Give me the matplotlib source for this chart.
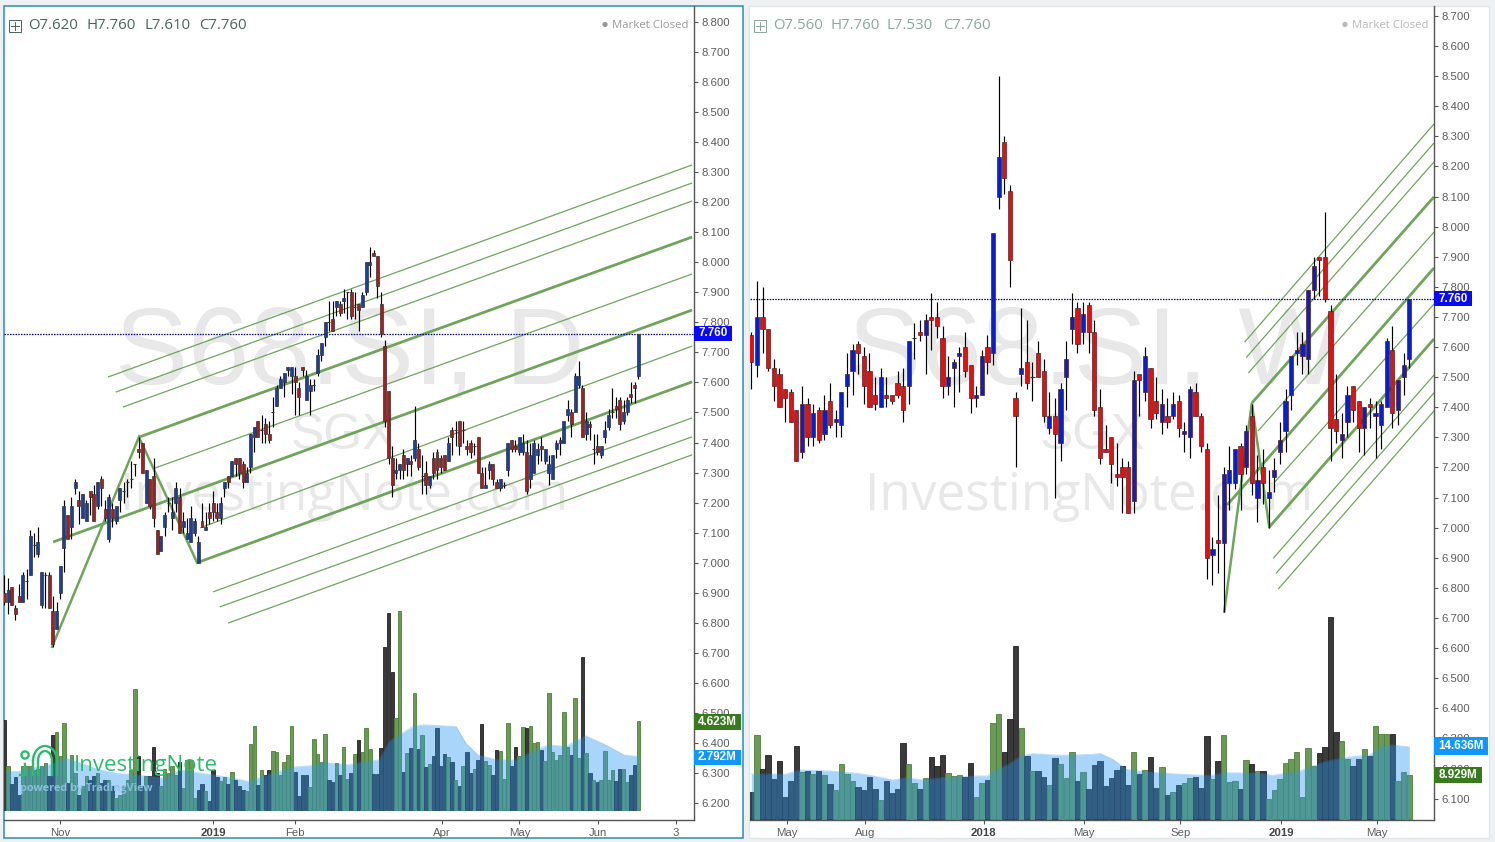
#!/usr/bin/env python3
import matplotlib
matplotlib.use('Agg')
import matplotlib.pyplot as plt
from matplotlib.patches import Rectangle, Arc, Circle

W, H = 1495, 842

# ---- daily chart (left) ----
d_open = [6.90,6.87,6.92,6.85,6.89,6.87,6.94,6.96,7.06,7.03,6.86,6.96,6.96,6.84,6.78,6.90,7.05,7.16,7.12,7.25,
          7.21,7.15,7.14,7.24,7.23,7.19,7.28,7.18,7.08,7.18,7.14,7.21,7.24,7.27,7.28,7.33,7.38,7.40,7.20,7.28,
          7.29,7.11,7.04,7.12,7.20,7.15,7.20,7.22,7.12,7.08,7.07,7.10,7.00,7.14,7.11,7.17,7.20,7.17,7.15,7.25,
          7.29,7.29,7.35,7.35,7.33,7.27,7.32,7.42,7.47,7.44,7.46,7.43,7.50,7.52,7.58,7.60,7.64,7.62,7.62,7.58,
          7.65,7.54,7.57,7.59,7.63,7.69,7.75,7.80,7.81,7.85,7.86,7.87,7.90,7.90,7.85,7.86,7.85,7.90,7.99,8.03,
          8.02,7.86,7.72,7.57,7.35,7.30,7.31,7.36,7.33,7.34,7.35,7.38,7.29,7.30,7.26,7.35,7.37,7.35,7.36,7.34,
          7.44,7.44,7.47,7.44,7.39,7.40,7.39,7.42,7.30,7.25,7.31,7.33,7.27,7.25,7.26,7.31,7.41,7.39,7.37,7.37,
          7.37,7.28,7.30,7.36,7.39,7.34,7.30,7.28,7.38,7.40,7.40,7.49,7.50,7.50,7.59,7.58,7.43,7.46,7.38,7.39,
          7.36,7.42,7.45,7.50,7.52,7.54,7.47,7.50,7.56,7.59,7.62]
d_high = [6.96,6.95,6.92,6.86,6.93,6.97,6.98,7.11,7.10,7.12,6.97,6.97,6.97,6.89,6.87,6.99,7.21,7.16,7.22,7.28,
          7.24,7.23,7.21,7.24,7.26,7.27,7.29,7.21,7.23,7.20,7.19,7.25,7.27,7.28,7.34,7.33,7.42,7.40,7.31,7.28,
          7.35,7.11,7.09,7.17,7.22,7.22,7.27,7.25,7.17,7.15,7.19,7.15,7.09,7.20,7.17,7.20,7.24,7.20,7.22,7.27,
          7.29,7.34,7.35,7.35,7.34,7.32,7.43,7.45,7.47,7.49,7.48,7.47,7.55,7.59,7.62,7.63,7.65,7.65,7.65,7.60,
          7.65,7.64,7.61,7.61,7.71,7.73,7.80,7.87,7.87,7.87,7.87,7.91,7.90,7.91,7.90,7.86,7.90,8.00,8.05,8.04,
          8.02,7.90,7.74,7.57,7.39,7.35,7.33,7.38,7.35,7.36,7.52,7.40,7.36,7.34,7.29,7.37,7.38,7.36,7.36,7.42,
          7.45,7.47,7.47,7.47,7.41,7.41,7.40,7.42,7.32,7.32,7.34,7.33,7.28,7.28,7.27,7.40,7.41,7.41,7.42,7.43,
          7.41,7.40,7.41,7.40,7.42,7.38,7.36,7.36,7.41,7.42,7.47,7.54,7.51,7.63,7.67,7.59,7.50,7.47,7.43,7.43,
          7.39,7.47,7.51,7.58,7.55,7.55,7.54,7.55,7.60,7.60,7.76]
d_low = [6.86,6.83,6.86,6.81,6.87,6.87,6.88,6.96,7.02,7.02,6.85,6.85,6.85,6.72,6.78,6.88,6.97,7.08,7.08,7.23,
         7.13,7.15,7.14,7.16,7.14,7.18,7.19,7.14,7.07,7.12,7.13,7.17,7.20,7.22,7.25,7.29,7.35,7.30,7.20,7.18,
         7.12,7.03,7.04,7.09,7.17,7.11,7.17,7.10,7.10,7.08,7.07,7.09,7.00,7.12,7.11,7.13,7.14,7.14,7.13,7.22,
         7.25,7.29,7.29,7.28,7.25,7.27,7.30,7.37,7.42,7.40,7.40,7.40,7.45,7.52,7.58,7.55,7.62,7.56,7.49,7.49,
         7.62,7.54,7.49,7.57,7.62,7.67,7.72,7.77,7.77,7.82,7.82,7.83,7.81,7.81,7.81,7.77,7.85,7.89,7.95,8.02,
         7.88,7.75,7.45,7.33,7.22,7.28,7.28,7.28,7.29,7.29,7.34,7.31,7.23,7.23,7.25,7.28,7.28,7.30,7.31,7.34,
         7.36,7.39,7.36,7.40,7.36,7.35,7.36,7.30,7.25,7.25,7.28,7.26,7.25,7.24,7.25,7.29,7.37,7.37,7.36,7.36,
         7.23,7.25,7.30,7.33,7.34,7.33,7.26,7.28,7.35,7.36,7.40,7.47,7.42,7.50,7.58,7.42,7.41,7.41,7.33,7.36,
         7.35,7.40,7.44,7.48,7.48,7.44,7.46,7.49,7.53,7.53,7.61]
d_close = [6.87,6.91,6.86,6.83,6.87,6.96,6.94,7.09,7.06,7.07,6.97,6.96,6.85,6.73,6.84,6.99,7.19,7.08,7.19,7.27,
           7.19,7.23,7.20,7.22,7.14,7.27,7.25,7.15,7.22,7.15,7.19,7.25,7.24,7.27,7.28,7.33,7.37,7.30,7.31,7.19,
           7.15,7.03,7.09,7.16,7.20,7.17,7.25,7.10,7.14,7.10,7.15,7.14,7.07,7.12,7.12,7.15,7.17,7.15,7.20,7.27,
           7.27,7.34,7.33,7.30,7.27,7.30,7.43,7.45,7.42,7.44,7.43,7.41,7.50,7.58,7.61,7.63,7.65,7.65,7.60,7.55,
           7.64,7.62,7.59,7.59,7.69,7.73,7.80,7.80,7.77,7.87,7.83,7.88,7.90,7.82,7.85,7.84,7.89,8.00,8.00,8.02,
           7.92,7.76,7.47,7.35,7.26,7.31,7.33,7.31,7.35,7.33,7.41,7.32,7.29,7.26,7.29,7.30,7.31,7.32,7.31,7.40,
           7.42,7.44,7.39,7.44,7.38,7.37,7.39,7.30,7.25,7.26,7.33,7.28,7.25,7.28,7.26,7.40,7.38,7.38,7.42,7.40,
           7.24,7.36,7.40,7.38,7.38,7.38,7.33,7.36,7.40,7.41,7.47,7.51,7.46,7.62,7.62,7.42,7.47,7.45,7.38,7.37,
           7.39,7.44,7.49,7.50,7.51,7.46,7.50,7.54,7.55,7.58,7.76]
d_vol = [4.71,2.32,1.39,1.73,0.78,2.29,2.29,2.29,2.11,2.15,2.29,2.46,1.77,3.93,4.07,2.84,4.54,1.42,2.87,1.94,
         0.81,1.25,1.77,1.59,1.77,1.94,1.42,1.59,1.59,1.25,0.64,0.81,1.25,1.59,2.11,6.30,2.84,1.25,1.77,1.77,
         3.29,1.94,1.25,2.15,1.94,2.29,1.85,2.51,1.16,2.63,2.63,0.64,1.07,1.39,0.99,0.50,2.08,1.73,1.51,1.73,
         1.39,1.99,1.59,1.28,1.07,0.99,3.46,4.38,1.33,2.11,1.85,2.11,3.08,3.03,1.82,2.51,2.87,4.38,1.99,0.73,
         1.85,1.85,1.21,3.71,2.93,2.53,3.97,1.56,1.49,2.46,1.82,3.31,1.65,
         1.94,2.94,3.67,3.03,4.29,3.19,1.90,1.90,3.26,8.48,10.25,7.20,4.81,10.35,1.99,2.98,3.26,6.11,3.20,3.93,
         2.27,2.41,2.84,4.29,2.32,2.94,2.79,2.53,1.59,1.28,2.32,3.05,1.96,2.16,2.63,4.50,2.58,2.37,1.85,3.15,
         3.10,1.65,4.54,2.32,3.31,2.81,4.35,4.29,4.40,3.52,3.57,3.15,2.58,6.11,3.05,2.63,2.89,5.13,3.31,2.89,
         5.85,2.74,7.98,3.00,1.96,1.59,1.49,1.59,3.10,1.59,2.11,1.54,2.16,2.16,1.49,1.85,2.37,4.623]
# g = green volume bar, k = dark volume bar
d_vol_col = ('kgkkkggggg' 'ggkkgggkgg' 'kggkkgkkgk' 'ggggggkkgk' 'kkgggggkgg' 'ggkkgkkkgg' 'kgkkkgggkg' 'kkggggggkk'
             'kkgggggkkg' 'kgg'
             'kgkgggkkkk' 'kkggkgkgkg' 'kgkkkkgkgk' 'gkkgkkggkk' 'gggkkggkgg' 'gkgggggggk' 'ggkgkgkggg' 'gkkggkkg')
d_ma_x = [0.4,4,7.6,12.1,16.5,21,25.5,30,34.4,38.9,42.5,47,52.3,55.9,61.3,65.3,69.3,77.4,81.8,85.4,92.6,
          97,100.6,103.2,105.9,109.5,112.2,115.7,121.1,123.7,126.9,131.8,137.1,142.5,146,150.5,155.8,161.2,166.1,170]
d_ma = [2.03,2.03,2.20,2.37,2.72,2.42,2.11,1.94,1.85,1.77,1.68,2.11,1.94,1.85,1.68,1.51,1.77,2.25,2.32,2.49,2.37,
        2.55,2.63,3.58,3.93,4.36,4.45,4.42,4.36,3.50,2.89,2.63,2.63,3.15,3.41,3.32,3.88,3.41,2.89,2.792]
d_tick_x = [15.0,56.0,77.9,117.3,138.1,159.2,180.1]
d_tick_lab = ['Nov','2019','Feb','Apr','May','Jun','3']
d_prices = [6.2,6.3,6.4,6.5,6.6,6.7,6.8,6.9,7.0,7.1,7.2,7.3,7.4,7.5,7.6,7.7,7.8,7.9,8.0,8.1,8.2,8.3,8.4,8.5,8.6,8.7,8.8]
# pitchfork: start bar, start price, end bar, end price, thick (1) or thin (0)
d_fork_x0 = [27.8,29.9,31.8,36.1,40.4,13.1,52.5,51.7,56.0,57.8,60.0]
d_fork_p0 = [7.618,7.568,7.518,7.418,7.315,7.069,7.116,7.0,6.903,6.853,6.799]
d_fork_x1 = [184.4]*11
d_fork_p1 = [8.324,8.264,8.204,8.084,7.961,7.841,7.721,7.602,7.482,7.419,7.359]
d_fork_thick = [0,0,0,1,0,1,0,1,0,0,0]
d_zig_x = [12.8,36.1,51.7]
d_zig_p = [6.72,7.418,7.0]

# ---- weekly chart (right) ----
w_open = [7.64,7.54,7.70,7.66,7.53,7.51,7.46,7.45,7.39,7.25,7.41,7.30,7.39,7.31,7.42,7.35,7.34,7.47,7.52,7.61,
          7.57,7.52,7.44,7.40,7.44,7.44,7.48,7.47,7.47,7.63,7.65,7.64,7.70,7.70,7.63,7.47,7.53,7.57,7.60,7.54,
          7.43,7.44,7.60,7.58,8.10,8.28,8.12,7.43,7.51,7.55,7.50,7.58,7.52,7.33,7.37,7.28,7.50,7.66,7.73,7.65,
          7.74,7.65,7.40,7.26,7.30,7.18,7.20,7.20,7.09,7.51,7.45,7.53,7.42,7.35,7.37,7.37,7.42,7.31,7.30,7.45,
          7.37,7.26,6.91,6.96,6.95,7.15,7.15,7.27,7.20,7.37,7.10,7.20,7.10,7.17,7.25,7.32,7.44,7.58,7.57,7.56,
          7.79,7.90,7.90,7.72,7.36,7.29,7.35,7.47,7.42,7.33,7.41,7.37,7.34,7.40,7.59,7.39,7.50,7.56]
w_high = [7.65,7.82,7.80,7.66,7.56,7.53,7.46,7.46,7.39,7.47,7.43,7.41,7.40,7.44,7.48,7.39,7.45,7.58,7.61,7.62,
          7.60,7.58,7.50,7.53,7.50,7.44,7.52,7.53,7.62,7.68,7.69,7.71,7.78,7.75,7.67,7.57,7.56,7.60,7.65,7.54,
          7.47,7.59,7.64,7.98,8.50,8.30,8.14,7.45,7.73,7.69,7.55,7.62,7.56,7.45,7.43,7.48,7.62,7.78,7.75,7.75,
          7.75,7.69,7.46,7.34,7.30,7.28,7.23,7.22,7.52,7.51,7.60,7.53,7.50,7.46,7.43,7.45,7.44,7.35,7.47,7.48,
          7.38,7.28,6.97,7.11,7.20,7.27,7.26,7.28,7.34,7.41,7.24,7.26,7.19,7.23,7.35,7.46,7.57,7.65,7.65,7.79,
          7.90,7.90,8.05,7.74,7.51,7.38,7.47,7.47,7.42,7.40,7.43,7.42,7.42,7.63,7.67,7.49,7.58,7.76]
w_low = [7.46,7.50,7.58,7.52,7.42,7.40,7.35,7.35,7.22,7.23,7.27,7.27,7.28,7.29,7.33,7.30,7.30,7.40,7.44,7.51,
         7.41,7.40,7.39,7.40,7.40,7.41,7.43,7.35,7.41,7.56,7.62,7.51,7.59,7.63,7.43,7.44,7.40,7.45,7.50,7.38,
         7.40,7.44,7.51,7.54,8.06,8.11,7.80,7.20,7.47,7.46,7.42,7.50,7.35,7.31,7.10,7.22,7.39,7.61,7.58,7.61,
         7.58,7.37,7.21,7.25,7.15,7.14,7.05,7.05,7.05,7.37,7.42,7.33,7.36,7.31,7.33,7.36,7.30,7.25,7.23,7.37,
         7.25,6.83,6.81,6.85,6.72,7.06,7.13,7.06,7.18,7.11,7.02,7.08,7.00,7.12,7.21,7.25,7.39,7.54,7.51,7.51,
         7.76,7.77,7.75,7.22,7.28,7.23,7.30,7.35,7.25,7.24,7.33,7.23,7.26,7.40,7.33,7.34,7.44,7.53]
w_close = [7.55,7.70,7.66,7.53,7.47,7.40,7.43,7.35,7.22,7.41,7.30,7.38,7.29,7.39,7.34,7.36,7.45,7.51,7.59,7.58,
           7.47,7.40,7.41,7.50,7.43,7.42,7.44,7.39,7.62,7.63,7.64,7.69,7.69,7.67,7.47,7.50,7.55,7.58,7.52,7.43,
           7.44,7.57,7.55,7.98,8.23,8.16,7.89,7.37,7.53,7.48,7.50,7.50,7.37,7.37,7.31,7.46,7.56,7.70,7.61,7.71,
           7.65,7.39,7.23,7.25,7.21,7.17,7.17,7.05,7.49,7.49,7.57,7.36,7.38,7.41,7.35,7.41,7.33,7.32,7.46,7.37,
           7.27,6.90,6.93,6.95,7.18,7.19,7.26,7.18,7.32,7.15,7.16,7.15,7.12,7.19,7.29,7.42,7.57,7.59,7.61,7.79,
           7.87,7.89,7.76,7.33,7.32,7.31,7.44,7.39,7.33,7.40,7.40,7.38,7.41,7.62,7.38,7.49,7.54,7.76]
w_vol = [5.41,16.97,10.07,12.91,8.05,11.70,4.39,7.64,14.74,9.47,9.67,9.13,9.67,8.92,7.03,5.81,11.09,9.13,7.71,6.42,
         5.81,8.45,6.02,3.79,7.64,5.21,6.02,15.35,11.09,7.23,6.02,8.25,12.51,10.68,12.91,9.26,8.65,8.92,8.45,11.29,
         4.39,7.23,7.84,19.41,21.23,13.52,20.22,35.02,18.39,12.71,9.67,9.67,8.45,6.83,12.31,11.09,8.25,13.52,7.64,9.47,6.02,
         10.89,11.70,6.63,8.25,9.87,10.68,6.83,13.52,9.13,9.87,12.51,6.22,10.48,4.80,5.41,6.83,7.23,8.25,8.45,6.22,
         16.77,8.05,11.70,16.97,7.44,7.64,6.02,11.90,11.09,9.67,9.67,3.99,5.81,8.05,11.29,12.10,13.52,4.39,14.33,10.68,
         13.32,14.54,40.91,17.58,15.75,12.10,10.68,12.10,14.13,12.71,18.80,17.17,17.17,17.17,7.64,9.47,8.929]
w_vol_col = ('kgkkkkkkkg' 'kgkgkggggk' 'kkkgkkkkgg' 'kgkkkgggkk' 'ggkggkkkgk' 'gkkgkgggkg' 'k'
             'kkkkkkkgkg' 'kkgkgkggkk' 'kgkgggkgkg' 'kggggggggg' 'kkkkggkkgk' 'gggkggg')
w_ma_x = [0,4.5,6,8.6,14,18.9,21.7,25.2,27.6,30.5,34,40,42,43,46,48,50,55,60.7,61,62,64.3,66.7,69.6,75.5,81.5,
          84.4,90.3,92.7,97.5,102,105.7,109.9,112,114,117]
w_ma = [9.13,9.13,9.06,9.94,9.74,9.26,8.72,7.91,8.38,7.91,8.38,8.72,8.72,9.60,11.29,12.78,13.25,12.91,13.12,13.18,
        13.32,12.10,10.07,9.60,9.13,8.79,9.40,9.26,8.86,9.74,11.63,12.51,12.98,14.67,15.01,14.636]
w_tick_x = [6.3,20.3,41.3,59.2,76.3,94.2,111.3]
w_tick_lab = ['May','Aug','2018','May','Sep','2019','May']
w_prices = [6.1,6.2,6.3,6.4,6.5,6.6,6.7,6.8,6.9,7.0,7.1,7.2,7.3,7.4,7.5,7.6,7.7,7.8,7.9,8.0,8.1,8.2,8.3,8.4,8.5,8.6,8.7]
w_fork_x0 = [87.7,88.0,88.4,89.0,90.1,84.6,93.1,92.1,92.8,93.3,93.7]
w_fork_p0 = [7.616,7.565,7.514,7.414,7.321,7.075,7.152,7.002,6.898,6.848,6.796]
w_fork_x1 = [121.4]*11
w_fork_p1 = [8.341,8.278,8.215,8.099,7.982,7.863,7.743,7.627,7.507,7.448,7.388]
w_fork_thick = [0,0,0,1,0,1,0,1,0,0,0]
w_zig_x = [84.1,89.0,92.1]
w_zig_p = [6.721,7.414,7.002]

last_price = 7.76
d_ohlc_text = [('O7.620', 28), ('H7.760', 86), ('L7.610', 144), ('C7.760', 199)]
w_ohlc_text = [('O7.560', 773), ('H7.760', 831), ('L7.530', 887), ('C7.760', 943)]

FORK = '#6fa55a'
GREEN_VOL = '#6b9a58'
DARK_VOL = '#3a3a3a'
AREA = '#2996f3'
AXIS = '#555555'
LABEL = '#5c5c5c'
FONT = 'Liberation Sans'


def panel_axes(fig, x0, x1, y0, y1):
    ax = fig.add_axes([x0 / W, 1 - y1 / H, (x1 - x0) / W, (y1 - y0) / H])
    ax.patch.set_alpha(0)
    return ax


def draw_chart(ax, opens, highs, lows, closes, vols, vol_cols, ma_x, ma, ticks, tick_labs, prices,
               fork, zig, body_w, vol_w, up_col, down_col, body_edge, xlim, ylim, vlim):
    xs = list(range(len(opens)))

    # volume goes on its own hidden scale
    vax = ax.twinx()
    vax.patch.set_alpha(0)
    vax.set_ylim(*vlim)
    vax.set_xlim(*xlim)
    vax.axis('off')
    cols = [GREEN_VOL if c == 'g' else DARK_VOL for c in vol_cols]
    edges = ['#4e7f3a' if c == 'g' else '#222222' for c in vol_cols]
    vax.bar(xs, vols, width=vol_w, color=cols, edgecolor=edges, linewidth=0.6, zorder=2)
    vax.fill_between(ma_x, 0, ma, color=AREA, alpha=0.4, linewidth=0, zorder=3)
    vax.plot(ma_x, ma, color=AREA, alpha=0.3, linewidth=0.7, zorder=3)

    # pitchfork and the zigzag it hangs on
    for x0, p0, x1, p1, thick in zip(*fork):
        ax.plot([x0, x1], [p0, p1], color=FORK, linewidth=2.0 if thick else 0.9, zorder=2,
                solid_capstyle='butt')
    ax.plot(zig[0], zig[1], color=FORK, linewidth=1.8, zorder=2, solid_joinstyle='miter')

    # last price line
    ax.axhline(last_price, color='#00008b', linewidth=0.9, dashes=(1.2, 1.0), zorder=3)

    # candles
    ax.vlines(xs, lows, highs, color='black', linewidth=0.85, zorder=4)
    for i in xs:
        lo = min(opens[i], closes[i])
        hi = max(opens[i], closes[i])
        c = up_col if closes[i] > opens[i] else down_col
        if hi == lo:
            ax.hlines(lo, i - body_w / 2, i + body_w / 2, color='#333333', linewidth=0.8, zorder=5)
        else:
            ax.bar(i, hi - lo, bottom=lo, width=body_w, color=c, edgecolor=body_edge, linewidth=0.5, zorder=5)

    ax.set_xlim(*xlim)
    ax.set_ylim(*ylim)
    ax.yaxis.tick_right()
    ax.set_yticks(prices)
    ax.set_yticklabels(['%.3f' % p for p in prices], family=FONT, fontsize=8.2, color=LABEL)
    ax.set_xticks(ticks)
    ax.set_xticklabels(tick_labs, family=FONT, fontsize=8.2, color=LABEL)
    for lab in ax.get_xticklabels():
        if lab.get_text() in ('2018', '2019'):
            lab.set_color('#444444')
            lab.set_fontweight('bold')
    ax.tick_params(axis='both', length=3, width=0.8, color=AXIS, pad=2.5)
    for side in ['top', 'left']:
        ax.spines[side].set_visible(False)
    for side in ['right', 'bottom']:
        ax.spines[side].set_color(AXIS)
        ax.spines[side].set_linewidth(1.0)


def draw_header(ov, items, box_x, col, market_x, market_col, y):
    ov.add_patch(Rectangle((box_x, y - 6), 12, 12, fill=False, edgecolor=col, linewidth=0.7))
    ov.plot([box_x + 2, box_x + 10], [y, y], color=col, linewidth=0.7)
    ov.plot([box_x + 6, box_x + 6], [y - 4, y + 4], color=col, linewidth=0.7)
    for txt, x in items:
        ov.text(x, y, txt, family='Open Sans', fontsize=10.8, color=col, va='center', ha='left')
    ov.add_patch(Circle((market_x, y - 1), 2.6, color=market_col, linewidth=0))
    ov.text(market_x + 7, y - 0.5, 'Market Closed', family='Open Sans', fontsize=8.2, color=market_col,
            va='center', ha='left')


def draw_tag(ov, x0, x1, y0, y1, txt, col):
    ov.add_patch(Rectangle((x0, y0), x1 - x0, y1 - y0, color=col, linewidth=0, zorder=6))
    ov.text((x0 + x1) / 2, (y0 + y1) / 2, txt, family=FONT, fontsize=8.4, fontweight='bold',
            color='white', ha='center', va='center', zorder=7)


def draw_logo(ov):
    col = '#2fbb6e'
    ov.add_patch(Circle((25, 755), 3.6, fill=False, edgecolor=col, linewidth=1.7))
    ov.plot([25, 25, 20], [764, 775, 775], color=col, linewidth=1.7)
    for w, h, cx in [(24, 30, 45), (14, 20, 45)]:
        ov.add_patch(Arc((cx, 761), w, h, theta1=180, theta2=360, edgecolor=col, linewidth=1.7))
        ov.plot([cx - w / 2, cx - w / 2], [761, 775], color=col, linewidth=1.7)
        ov.plot([cx + w / 2, cx + w / 2], [761, 775], color=col, linewidth=1.7)
    ov.text(74, 765, 'InvestingNote', family='Open Sans', fontsize=16, color=col, va='center', ha='left', zorder=5)
    ov.text(20, 788, 'powered by TradingView', family='Open Sans', fontsize=7.8, color='#8fc3e8',
            va='center', ha='left', fontweight='bold', alpha=0.9)


def main():
    fig = plt.figure(figsize=(W / 100, H / 100), dpi=100, facecolor='#eef1f3')

    # page background, panel frames and watermarks, all in pixels
    bg = fig.add_axes([0, 0, 1, 1], zorder=0)
    bg.set_xlim(0, W)
    bg.set_ylim(H, 0)
    bg.axis('off')
    bg.add_patch(Rectangle((3.5, 5.5), 739, 832, facecolor='white', edgecolor='#2b8db5', linewidth=1.1))
    bg.add_patch(Rectangle((749, 6), 739.5, 832, facecolor='white', edgecolor='#e3e6e8', linewidth=1))
    wm = '#e8e8e8'
    for x, sym, x2, x3 in [(115, 'S68.SI, D', 343, 120), (848, 'S68.SI, W', 1092, 865)]:
        bg.text(x, 356, sym, family=FONT, fontsize=79, color=wm, va='center', ha='left')
        bg.text(x2, 436, 'SGX', family=FONT, fontsize=36, color=wm, va='center', ha='center')
        bg.text(x3, 496, 'InvestingNote.com', family='Open Sans', fontsize=37, color=wm, va='center', ha='left')

    ax1 = panel_axes(fig, 4, 694, 6, 820)
    ax1.set_zorder(1)
    draw_chart(ax1, d_open, d_high, d_low, d_close, d_vol, d_vol_col, d_ma_x, d_ma, d_tick_x, d_tick_lab, d_prices,
               (d_fork_x0, d_fork_p0, d_fork_x1, d_fork_p1, d_fork_thick), (d_zig_x, d_zig_p),
               0.8, 0.92, '#1b3f9c', '#a81e1e', '#333333', (-0.08, 184.9), (6.1435, 8.853), (-0.494, 41.79))

    ax2 = panel_axes(fig, 749.5, 1434, 6, 820)
    ax2.set_zorder(1)
    draw_chart(ax2, w_open, w_high, w_low, w_close, w_vol, w_vol_col, w_ma_x, w_ma, w_tick_x, w_tick_lab, w_prices,
               (w_fork_x0, w_fork_p0, w_fork_x1, w_fork_p1, w_fork_thick), (w_zig_x, w_zig_p),
               0.75, 0.96, '#0a1fc8', '#dd1212', '#552222', (-0.32, 121.4), (6.029, 8.733), (-0.2, 164.9))

    # text and price tags on top
    ov = fig.add_axes([0, 0, 1, 1], zorder=3)
    ov.patch.set_alpha(0)
    ov.set_xlim(0, W)
    ov.set_ylim(H, 0)
    ov.axis('off')
    draw_header(ov, d_ohlc_text, 9, '#47655c', 605, '#999999', 25.5)
    draw_header(ov, w_ohlc_text, 754, '#8ba69c', 1345, '#b8b8b8', 25.5)
    draw_logo(ov)
    draw_tag(ov, 694, 732, 326, 341, '7.760', '#0a0af0')
    draw_tag(ov, 694, 741, 714, 730, '4.623M', '#3a7a1e')
    draw_tag(ov, 694, 741, 750, 765, '2.792M', '#1196fa')
    draw_tag(ov, 1434, 1472, 291, 306, '7.760', '#0a0af0')
    draw_tag(ov, 1434, 1488, 737, 755, '14.636M', '#1196fa')
    draw_tag(ov, 1434, 1482, 767, 783, '8.929M', '#3a7a1e')

    fig.savefig('out.png', dpi=100)


if __name__ == "__main__":
    main()
